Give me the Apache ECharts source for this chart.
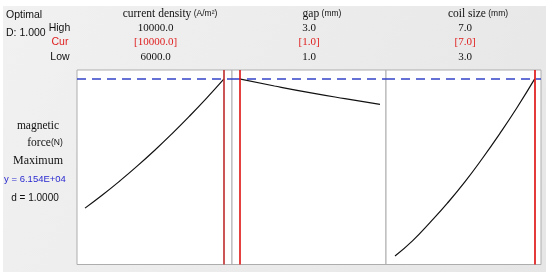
<!DOCTYPE html>
<html>
<head>
<meta charset="utf-8">
<script src="https://cdn.jsdelivr.net/npm/echarts@6/dist/echarts.min.js"></script>
<style>
html,body{margin:0;padding:0;background:#fff;}
#c{width:550px;height:278px;}
</style>
</head>
<body>
<div id="c"></div>
<script>
// ---- data ----
var densityX = [6000, 6500, 7000, 7500, 8000, 8500, 9000, 9500, 10000];
var densityY = [18700, 23050, 27690, 32610, 37820, 43320, 49110, 55180, 61540];
var gapX = [1.0, 1.5, 2.0, 2.5, 3.0];
var gapY = [61540, 59200, 57000, 55000, 53100];
var coilX = [3.0, 3.5, 4.0, 4.5, 5.0, 5.5, 6.0, 6.5, 7.0];
var coilY = [2820, 7850, 13900, 20350, 27400, 35150, 43400, 52150, 61540];
var factorNames = ['current density', 'gap', 'coil size'];
var factorUnits = ['(A/m²)', '(mm)', '(mm)'];
var highLabels = ['10000.0', '3.0', '7.0'];
var curLabels = ['[10000.0]', '[1.0]', '[7.0]'];
var lowLabels = ['6000.0', '1.0', '3.0'];
var curValues = [10000, 1.0, 7.0];
var optimumY = 61540;
var yMin = 0, yMax = 64500;

var chart = echarts.init(document.getElementById('c'));

function pairs(xs, ys){ return xs.map(function(x,i){ return [x, ys[i]]; }); }

var grids = [
  {left:77, top:70, width:155, height:194.5},
  {left:232, top:70, width:154, height:194.5},
  {left:386, top:70, width:155, height:194.5}
];
// axis extents with small padding beyond the factor range
var xRanges = [[5770, 10230], [0.896, 3.085], [2.742, 7.18]];
var seriesData = [pairs(densityX, densityY), pairs(gapX, gapY), pairs(coilX, coilY)];
var redColors = ['#c23838', '#e02020', '#e01818'];

var xAxes = [], yAxes = [], series = [];
for (var i = 0; i < 3; i++) {
  xAxes.push({type:'value', gridIndex:i, min:xRanges[i][0], max:xRanges[i][1], show:false});
  yAxes.push({type:'value', gridIndex:i, min:yMin, max:yMax, show:false});
  series.push({
    type:'line', xAxisIndex:i, yAxisIndex:i, data:seriesData[i],
    smooth:true, showSymbol:false, symbol:'none',
    lineStyle:{color:'#111', width:1.2}, z:3,
    markLine:{
      silent:true, symbol:'none', animation:false,
      label:{show:false},
      data:[
        {yAxis:optimumY, lineStyle:{color:'#3343c8', width:1.6, type:[9,6]}},
        {xAxis:curValues[i], lineStyle:{color:redColors[i], width:1.7, type:'solid'}}
      ]
    }
  });
}

var serif = 'Liberation Serif';
var sans = 'Liberation Sans';
var graphics = [
  {type:'rect', z:-10, shape:{x:3, y:6, width:543, height:266},
   style:{fill:new echarts.graphic.LinearGradient(0,0,1,1,[{offset:0,color:'#f1f1f1'},{offset:1,color:'#e6e6e6'}])}},
  {type:'text', left:6, top:10, style:{text:'Optimal', font:'10.5px '+sans, fill:'#111'}},
  {type:'text', left:6, top:28, style:{text:'D: 1.000', font:'10.5px '+sans, fill:'#111'}},
  {type:'text', x:59.5, y:28, style:{text:'High', font:'10.5px '+sans, fill:'#111', align:'center', verticalAlign:'middle'}},
  {type:'text', x:60, y:42, style:{text:'Cur', font:'10.5px '+sans, fill:'#e02020', align:'center', verticalAlign:'middle'}},
  {type:'text', x:60, y:57, style:{text:'Low', font:'10.5px '+sans, fill:'#111', align:'center', verticalAlign:'middle'}}
];
var headX = [170, 322, 478];
var numX = [155.5, 309, 465];
for (var k = 0; k < 3; k++) {
  graphics.push({type:'text', x:headX[k], y:14, style:{
    text:'{a|'+factorNames[k]+'}{b| '+factorUnits[k]+'}', align:'center', verticalAlign:'middle',
    rich:{a:{font:'11.5px '+serif, fill:'#111'}, b:{font:'8.5px '+sans, fill:'#111'}}}});
  graphics.push({type:'text', x:numX[k], y:28, style:{text:highLabels[k], font:'11px '+serif, fill:'#111', align:'center', verticalAlign:'middle'}});
  graphics.push({type:'text', x:numX[k], y:42, style:{text:curLabels[k], font:'11px '+serif, fill:'#e02020', align:'center', verticalAlign:'middle'}});
  graphics.push({type:'text', x:numX[k], y:57, style:{text:lowLabels[k], font:'11px '+serif, fill:'#111', align:'center', verticalAlign:'middle'}});
}
graphics.push(
  {type:'text', x:38, y:126, style:{text:'magnetic', font:'11.5px '+serif, fill:'#111', align:'center', verticalAlign:'middle'}},
  {type:'text', x:45, y:143, style:{text:'{a|force}{b|(N)}', align:'center', verticalAlign:'middle',
    rich:{a:{font:'11.5px '+serif, fill:'#111'}, b:{font:'8.5px '+sans, fill:'#111'}}}},
  {type:'text', x:38, y:161, style:{text:'Maximum', font:'12px '+serif, fill:'#111', align:'center', verticalAlign:'middle'}},
  {type:'text', x:35, y:179, style:{text:'y = 6.154E+04', font:'9.5px '+sans, fill:'#2a2ad0', align:'center', verticalAlign:'middle'}},
  {type:'text', x:35, y:198, style:{text:'d = 1.0000', font:'10px '+sans, fill:'#111', align:'center', verticalAlign:'middle'}}
);

chart.setOption({
  animation:false,
  backgroundColor:'transparent',
  grid: grids.map(function(g){ return Object.assign({show:true, backgroundColor:'#fff', borderColor:'#adadad', borderWidth:1}, g); }),
  xAxis: xAxes,
  yAxis: yAxes,
  series: series,
  graphic: graphics
});
</script>
</body>
</html>
